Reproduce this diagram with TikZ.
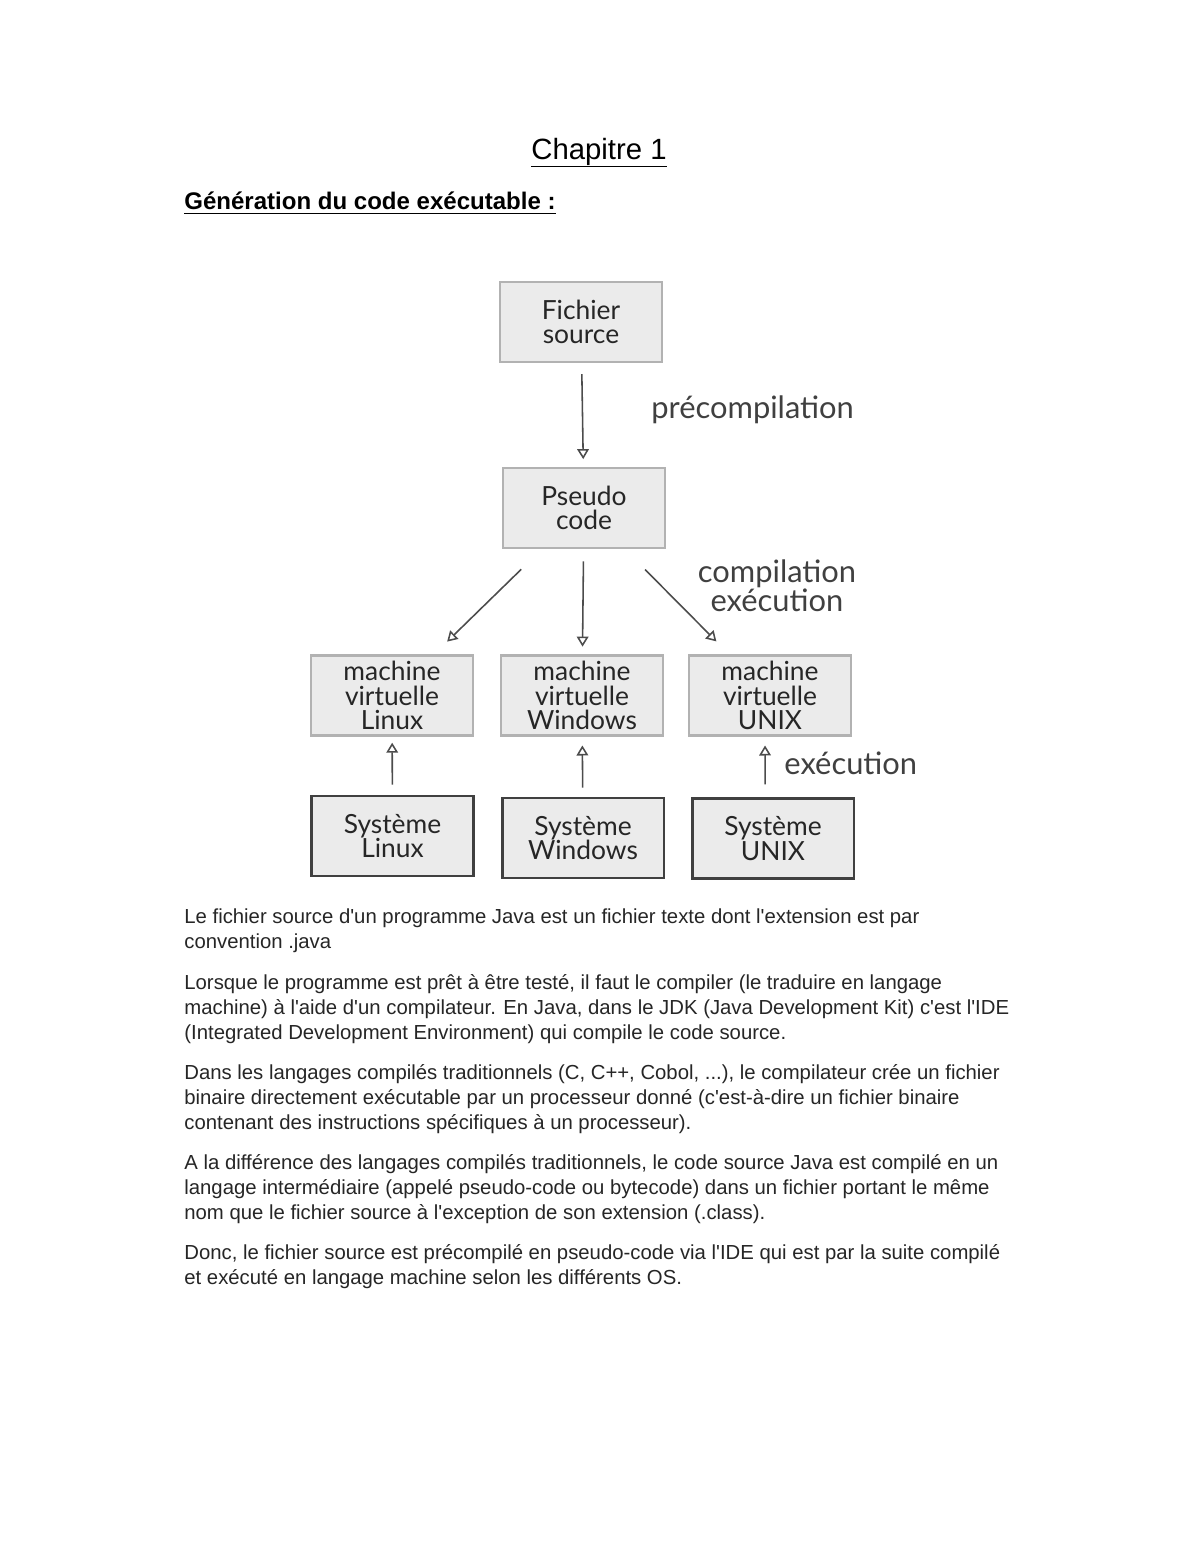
\documentclass[tikz,border=0pt]{standalone}
\usepackage{fontspec}
\setmainfont{Liberation Sans}[Ligatures=TeXOff]
\newfontfamily\diagfont{Lato}
\usetikzlibrary{arrows.meta, positioning}

\begin{document}
\begin{tikzpicture}[x=0.17992mm, y=-0.17992mm]
\tikzstyle{vmbox} = [rectangle, draw=black!30, line width=1.1pt, fill=black!8, minimum width=29.1mm, minimum height=14.4mm, inner sep=1pt, align=center, text=black!85, font=\diagfont\fontsize{13.5}{12.5}\selectfont]
\tikzstyle{osbox} = [vmbox, draw=black!75, line width=1.4pt]
\tikzstyle{lbl} = [inner sep=0pt, text=black!75, font=\diagfont\fontsize{15.8}{14.8}\selectfont]
\tikzstyle{arrow} = [line width=0.8pt, draw=black!70, -{Triangle[open, length=1.8mm, width=2.1mm]}]
\tikzstyle{para} = [anchor=north west, align=left, inner sep=0pt, text=black!85, font=\fontsize{10.4}{12.75}\selectfont]
\tikzstyle{uline} = [line width=0.7pt]

\fill[white] (0,0) rectangle (1200,1553);
\useasboundingbox (0,0) rectangle (1200,1553);

% en-tete
\node[inner sep=0pt, font=\fontsize{15}{18}\selectfont] (chap) at (599,152) {Chapitre 1};
\node[inner sep=0pt, anchor=west, font=\bfseries\fontsize{12.3}{14}\selectfont] (gen) at (184,201) {Génération du code exécutable :};
\draw[uline] ([yshift=-3.6pt]chap.base west) -- ([yshift=-3.6pt]chap.base east);
\draw[uline] ([yshift=-1.8pt]gen.base west) -- ([yshift=-1.8pt]gen.base east);

% schema
\node[vmbox] (fichier) at (581,322) {Fichier\\source};
\node[vmbox] (pseudo) at (584,508) {Pseudo\\code};
\node[vmbox] (mlinux) at (392,695.5) {machine\\virtuelle\\Linux};
\node[vmbox] (mwin) at (582,695.5) {machine\\virtuelle\\Windows};
\node[vmbox] (munix) at (770,695.5) {machine\\virtuelle\\UNIX};
\node[osbox] (slinux) at (392.5,836) {Système\\Linux};
\node[osbox] (swin) at (583,838) {Système\\Windows};
\node[osbox] (sunix) at (773,838.5) {Système\\UNIX};

\draw[arrow, shorten <=2mm, shorten >=1.4mm] (fichier) -- (pseudo);
\draw[arrow, shorten <=5.2mm, shorten >=3.3mm] (pseudo) -- (mlinux);
\draw[arrow, shorten <=2.2mm, shorten >=1.4mm] (pseudo) -- (mwin);
\draw[arrow, shorten <=5.2mm, shorten >=3.3mm] (pseudo) -- (munix);
\draw[arrow, shorten <=1.8mm, shorten >=1.1mm] (slinux) -- (mlinux);
\draw[arrow, shorten <=1.6mm, shorten >=1.6mm] (swin) -- (mwin);
\draw[arrow, shorten <=2.3mm, shorten >=1.6mm] ([xshift=-1.4mm]sunix.north) -- ([xshift=-0.9mm]munix.south);

\node[lbl, anchor=west] (precomp) at (651,410) {précompilation};
\node[lbl, align=center] (compexec) at (777,586) {compilation\\exécution};
\node[lbl, anchor=west] (exec) at (784,763) {exécution};

% texte
\node[para] (p1) at (184,908) {Le fichier source d'un programme Java est un fichier texte dont l'extension est par\\convention .java};
\node[para] (p2) at (184,974) {Lorsque le programme est prêt à être testé, il faut le compiler (le traduire en langage\\machine) à l'aide d'un compilateur. En Java, dans le JDK (Java Development Kit) c'est l'IDE\\(Integrated Development Environment) qui compile le code source.};
\node[para] (p3) at (184,1064) {Dans les langages compilés traditionnels (C, C++, Cobol, ...), le compilateur crée un fichier\\binaire directement exécutable par un processeur donné (c'est-à-dire un fichier binaire\\contenant des instructions spécifiques à un processeur).};
\node[para] (p4) at (184,1154) {A la différence des langages compilés traditionnels, le code source Java est compilé en un\\langage intermédiaire (appelé pseudo-code ou bytecode) dans un fichier portant le même\\nom que le fichier source à l'exception de son extension (.class).};
\node[para] (p5) at (184,1244) {Donc, le fichier source est précompilé en pseudo-code via l'IDE qui est par la suite compilé\\et exécuté en langage machine selon les différents OS.};
\end{tikzpicture}
\end{document}
